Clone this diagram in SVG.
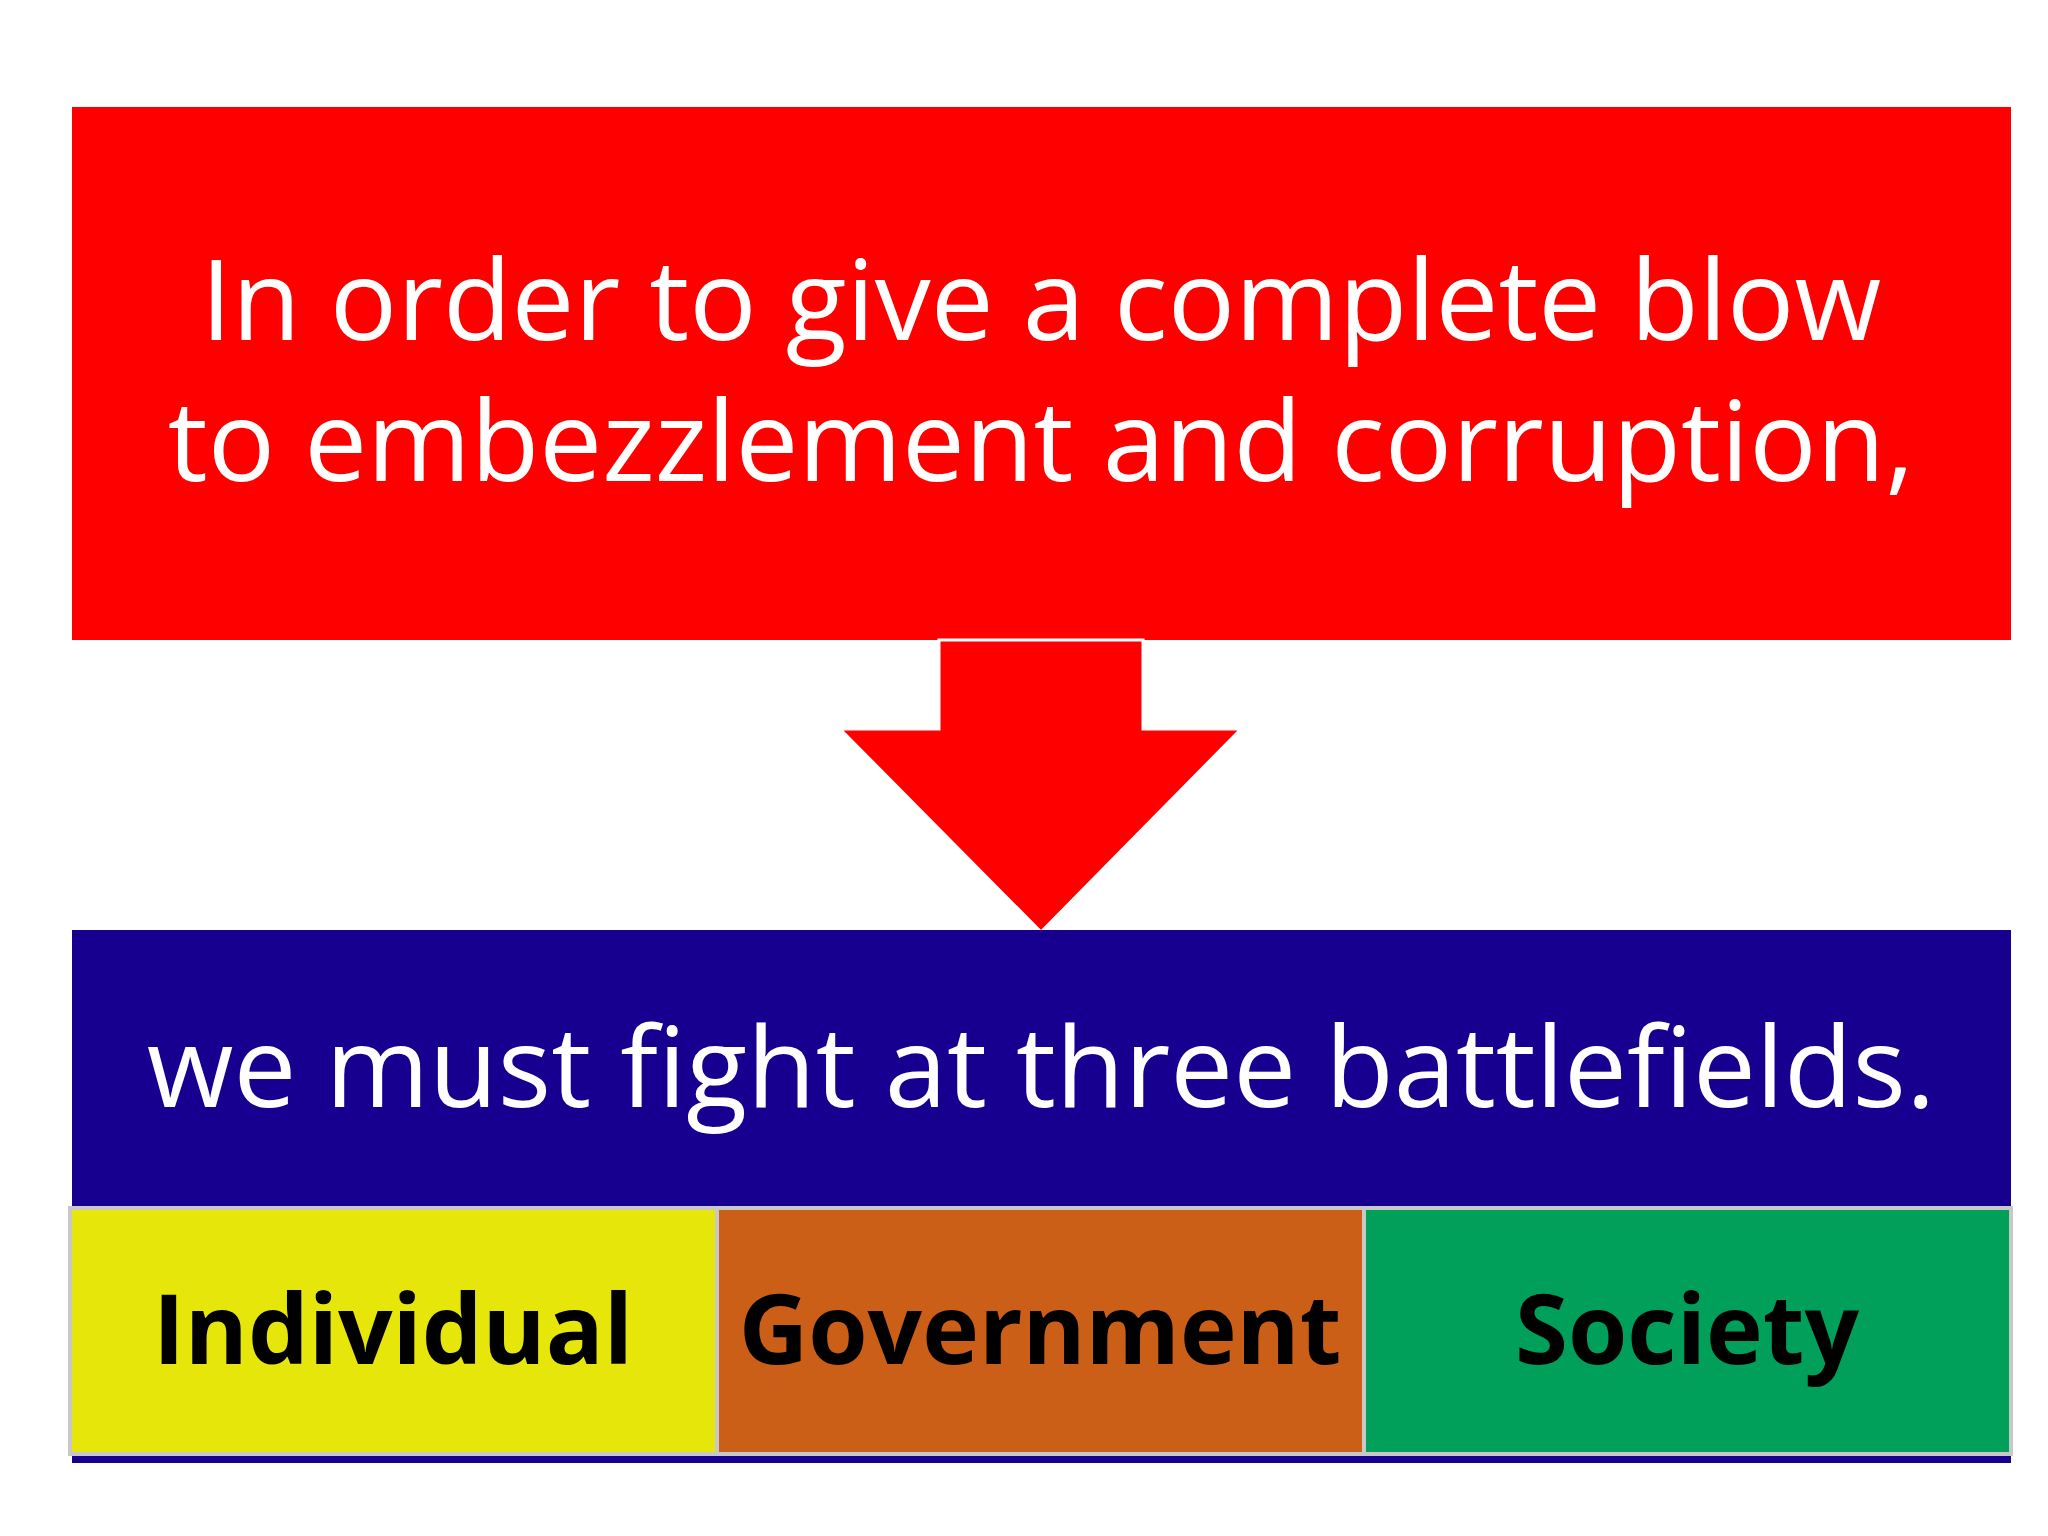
<svg xmlns="http://www.w3.org/2000/svg" width="2048" height="1536" viewBox="0 0 2048 1536">
<style>
.t{font-family:"Open Sans","Noto Sans",sans-serif;fill:#fff;text-anchor:middle}
.c{font-family:"Open Sans","Noto Sans",sans-serif;font-weight:bold;fill:#000;text-anchor:middle;font-size:96px}
.cell{stroke:#c8c8c8;stroke-width:4}
</style>
<rect width="2048" height="1536" fill="#fff"/>
<g id="top">
<rect x="72" y="107" width="1939" height="533" fill="#ff0000"/>
<text class="t" font-size="112" x="1041" y="340">In order to give a complete blow</text>
<text class="t" font-size="112" x="1041" y="481">to embezzlement and corruption,</text>
</g>
<g id="connectors">
<polygon points="939,640 1143,640 1143,729 1241,729 1041,932 840,729 939,729" fill="#ff0000" stroke="#fff" stroke-width="3"/>
</g>
<g id="bottom">
<rect x="72" y="930" width="1939" height="533" fill="#170090"/>
<text class="t" font-size="112" x="1041" y="1107">we must fight at three battlefields.</text>
</g>
<g id="individual">
<rect class="cell" x="70" y="1208" width="647" height="246" fill="#e6e60a"/>
<text class="c" x="393" y="1364">Individual</text>
</g>
<g id="government">
<rect class="cell" x="717" y="1208" width="647" height="246" fill="#cc5f17"/>
<text class="c" x="1040" y="1364">Government</text>
</g>
<g id="society">
<rect class="cell" x="1364" y="1208" width="647" height="246" fill="#00a05a"/>
<text class="c" x="1687" y="1364">Society</text>
</g>
</svg>
